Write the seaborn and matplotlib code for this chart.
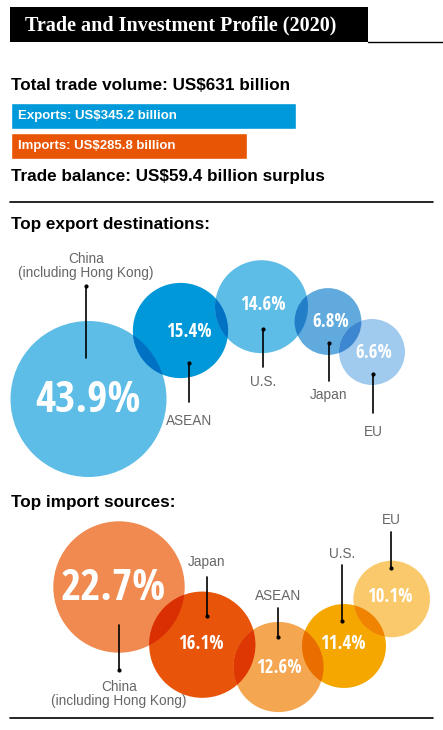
import numpy as np
import pandas as pd
import matplotlib
matplotlib.use('Agg')
import matplotlib.pyplot as plt
from matplotlib import font_manager
from matplotlib.textpath import TextPath
from matplotlib.patches import Circle, Rectangle
import seaborn as sns

# ---- data ----
trade_names = ['Exports', 'Imports']
trade_values = [345.2, 285.8]
total_trade = 631
trade_balance = 59.4

export_names = ['China\n(including Hong Kong)', 'ASEAN', 'U.S.', 'Japan', 'EU']
export_share = [43.9, 15.4, 14.6, 6.8, 6.6]
import_names = ['China\n(including Hong Kong)', 'Japan', 'ASEAN', 'U.S.', 'EU']
import_share = [22.7, 16.1, 12.6, 11.4, 10.1]

# ---- styles / layout (pixel coords, y down) ----
bar_colors = ['#0099d9', '#e85505']
export_colors = ['#5dbde6', '#0098d8', '#5dbde6', '#60aade', '#a0caee']
import_colors = ['#f08a50', '#e8550a', '#f4a651', '#f5a700', '#fac96b']

# bubble centres, percent label pos, leader line (x, y0, y1, dot end), name label y
export_layout = [
    dict(c=(88.5, 399), pct=(88, 400), big=True, lead=(86, 286, 358, 286), name=266),
    dict(c=(180.5, 330.5), pct=(189, 332), big=False, lead=(189, 363, 402, 363), name=421),
    dict(c=(261.5, 306.7), pct=(263, 305), big=False, lead=(263, 329, 367, 329), name=382),
    dict(c=(328, 321.5), pct=(331, 322), big=False, lead=(329, 343, 381, 343), name=395),
    dict(c=(372, 352), pct=(374, 353), big=False, lead=(373, 374, 413, 374), name=432),
]
import_layout = [
    dict(c=(119, 587), pct=(113, 588), big=True, lead=(119, 625, 670, 670), name=694),
    dict(c=(202.3, 644.7), pct=(201, 644), big=False, lead=(207, 577, 616, 616), name=562),
    dict(c=(278.5, 667), pct=(279, 668), big=False, lead=(278, 608, 637, 637), name=596),
    dict(c=(344, 646), pct=(343, 644), big=False, lead=(342, 565, 621, 621), name=554),
    dict(c=(391.7, 599), pct=(390, 597), big=False, lead=(391, 532, 568, 568), name=520),
]

sns.set_style('white')
plt.rcParams['font.family'] = ['Liberation Sans', 'DejaVu Sans']

SANS_FAMILIES = ('liberation sans', 'roboto', 'open sans', 'lato', 'inter', 'noto sans', 'dejavu sans')


def weight_num(w):
    if isinstance(w, (int, float)):
        return w
    return {'bold': 700, 'heavy': 800, 'black': 900, 'extra bold': 800, 'ultrabold': 800,
            'semibold': 600, 'demibold': 600, 'demi': 600}.get(str(w).lower(), 400)


# the narrowest upright bold sans that is installed, for the percent figures
def pick_narrow():
    best = None
    seen = set()
    for f in font_manager.fontManager.ttflist:
        name = f.name.lower()
        if f.fname in seen or weight_num(f.weight) < 700 or f.style != 'normal':
            continue
        if 'italic' in f.fname.lower() or 'oblique' in f.fname.lower():
            continue
        if not name.startswith(SANS_FAMILIES) or 'mono' in name or 'cjk' in name:
            continue
        seen.add(f.fname)
        try:
            fp = font_manager.FontProperties(fname=f.fname)
            ext = TextPath((0, 0), '43.9%', prop=fp, size=100).get_extents()
            cap = TextPath((0, 0), '4', prop=fp, size=100).get_extents().height
        except Exception:
            continue
        if cap <= 0:
            continue
        ratio = ext.width / cap
        if ratio < 2.8:
            continue
        if best is None or ratio < best[0]:
            best = (ratio, f.fname, cap / 100)
    if best is None:
        fp = font_manager.FontProperties(family=['Liberation Sans', 'DejaVu Sans'], weight='bold')
        return fp, 0.72
    return font_manager.FontProperties(fname=best[1]), best[2]


narrow_fp, cap_ratio = pick_narrow()


def pct_size(cap_px, width_px, text):
    # font size (pt) giving the wanted cap height, but no wider than the reference
    size_px = cap_px / cap_ratio
    w = TextPath((0, 0), text, prop=narrow_fp, size=size_px).get_extents().width
    if w > width_px:
        size_px *= width_px / w
    return size_px * 0.72


W, H = 443, 730
fig = plt.figure(figsize=(W / 100, H / 100), dpi=100)
ax = fig.add_axes([0, 0, 1, 1])
ax.set_xlim(0, W)
ax.set_ylim(H, 0)
ax.axis('off')

# title block
ax.add_patch(Rectangle((10, 7), 358, 35, color='black', lw=0))
ax.plot([368, 443], [42, 42], color='black', lw=1)
ax.text(25, 25, 'Trade and Investment Profile (2020)', color='white',
        family=['Liberation Serif', 'DejaVu Serif'], weight='bold',
        fontsize=14.5, va='center', ha='left')

hdr = dict(fontsize=12.3, weight='bold', color='black', va='center', ha='left')
ax.text(11, 86, f'Total trade volume: US${total_trade} billion', **hdr)
ax.text(11, 177, f'Trade balance: US${trade_balance} billion surplus', **hdr)
ax.text(11, 225, 'Top export destinations:', **hdr)
ax.text(11, 502, 'Top import sources:', **hdr)
ax.plot([10, 433], [202, 202], color='black', lw=1.2)
ax.plot([10, 433], [718, 718], color='black', lw=1.2)

# trade bars
axb = fig.add_axes([11 / W, 1 - 161.5 / H, 300 / W, 61 / H])
df_trade = pd.DataFrame({'kind': trade_names, 'value': trade_values})
sns.barplot(data=df_trade, x='value', y='kind', hue='kind', palette=bar_colors,
            legend=False, width=0.86, orient='h', ax=axb, saturation=1)
axb.set_xlim(0, 345.2 * 300 / 285)
axb.axis('off')
for i, (n, v) in enumerate(zip(trade_names, trade_values)):
    axb.annotate(f'{n}: US${v} billion', (0, i), xytext=(5, 0), textcoords='offset points',
                 color='white', fontsize=9.5, weight='bold', va='center', ha='left')


def multiply(c1, c2):
    a = np.array(matplotlib.colors.to_rgb(c1))
    b = np.array(matplotlib.colors.to_rgb(c2))
    return tuple(a * b)


big_size = pct_size(32, 103, '43.9%')
small_size = pct_size(13.5, 45, '15.4%')


def bubbles(names, share, colors, layout, sizes):
    df = pd.DataFrame({'name': names, 'share': share,
                       'x': [l['c'][0] for l in layout], 'y': [l['c'][1] for l in layout]})
    sns.scatterplot(data=df, x='x', y='y', size='share', sizes=sizes, hue='name',
                    palette=colors, legend=False, linewidth=0, alpha=1, ax=ax, zorder=2)
    coll = ax.collections[-1]
    offs = coll.get_offsets()
    radii = np.sqrt(coll.get_sizes()) / 2 * 100 / 72
    # darker overlap, like multiply blending
    for i in range(len(names) - 1):
        base = Circle(offs[i], radii[i], transform=ax.transData)
        top = Circle(offs[i + 1], radii[i + 1], fc=multiply(colors[i], colors[i + 1]),
                     lw=0, zorder=2.5)
        ax.add_patch(top)
        top.set_clip_path(base)
    for n, s, l in zip(names, share, layout):
        fp = narrow_fp.copy()
        fp.set_size(big_size if l['big'] else small_size)
        ax.text(l['pct'][0], l['pct'][1], f'{s}%', color='white', fontproperties=fp,
                ha='center', va='center', zorder=4)
        lx, y0, y1, yd = l['lead']
        ax.plot([lx, lx], [y0, y1], color='black', lw=1.2, zorder=3)
        ax.plot([lx], [yd], marker='o', ms=2, color='black', zorder=3)
        ax.text(lx, l['name'], n, color='#666666', fontsize=9.8, ha='center', va='center',
                linespacing=1.0, zorder=4)


bubbles(export_names, export_share, export_colors, export_layout, (2258, 12615))
bubbles(import_names, import_share, import_colors, import_layout, (3042, 8950))

fig.savefig('out.png', dpi=100)
